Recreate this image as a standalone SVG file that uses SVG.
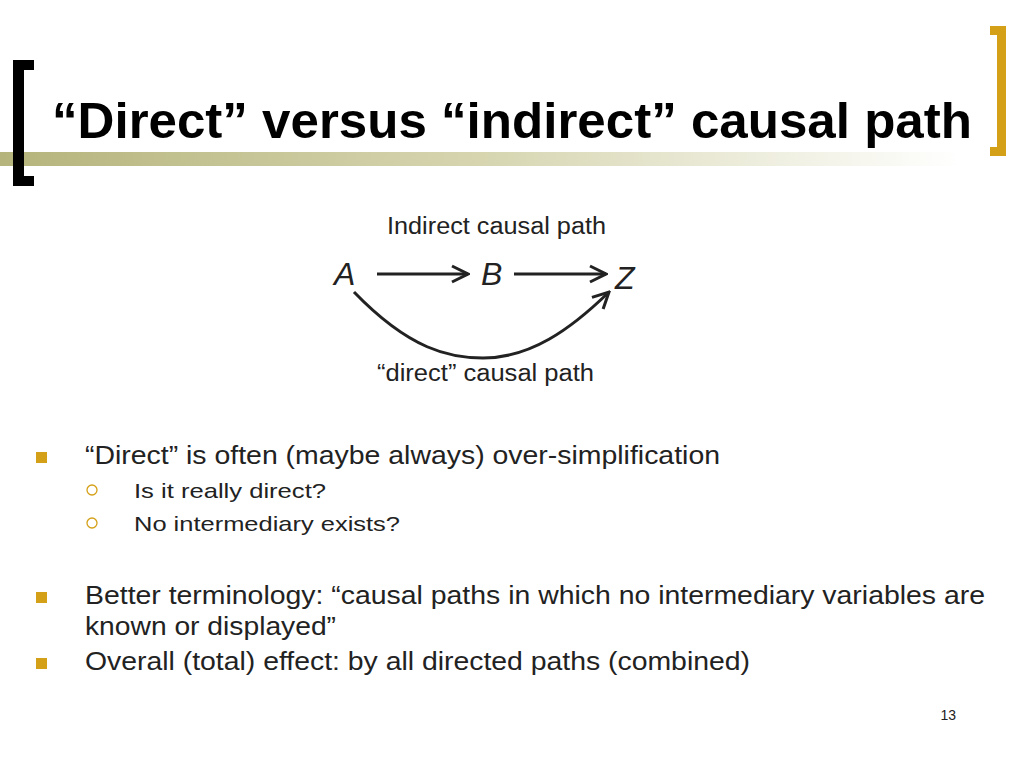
<svg xmlns="http://www.w3.org/2000/svg" width="1024" height="768" viewBox="0 0 1024 768">
<defs>
<linearGradient id="bar" x1="0" x2="1" y1="0" y2="0">
<stop offset="0" stop-color="#b5b47c"/><stop offset="0.5" stop-color="#d6d5b0"/><stop offset="1" stop-color="#ffffff"/>
</linearGradient>
<marker id="ah2" viewBox="0 0 20 20" refX="18" refY="10" markerWidth="20" markerHeight="20" orient="auto" markerUnits="userSpaceOnUse"><path d="M2,2 L18,10 L2,18" fill="none" stroke="#222" stroke-width="3"/></marker>
</defs>
<style>
.t{font-family:"Liberation Sans",Arial,sans-serif;fill:#222}
.v{font-family:"Liberation Sans",Arial,sans-serif;font-style:italic;font-size:32px;fill:#222}
.c{stroke:#222;stroke-width:3;fill:none;marker-end:url(#ah2)}
.b{fill:#d4a017}
</style>
<rect width="1024" height="768" fill="#fff"/>
<rect x="0" y="152" width="960" height="14" fill="url(#bar)"/>
<path d="M34,60 H13 V186 H34 V176 H24 V70 H34 Z" fill="#000"/>
<path d="M990,26 H1006 V156 H990 V147 H997 V35 H990 Z" fill="#d4a017"/>
<text x="52" y="138" style="font-family:'Liberation Sans Narrow','Liberation Sans',Arial,sans-serif;font-weight:bold;font-size:50px;font-stretch:condensed" textLength="920" lengthAdjust="spacingAndGlyphs" fill="#000">“Direct” versus “indirect” causal path</text>
<g id="label-indirect"><text class="t" x="387" y="234" font-size="23" textLength="219" lengthAdjust="spacingAndGlyphs">Indirect causal path</text></g>
<g id="node-A"><text class="v" x="334" y="285">A</text></g>
<g id="node-B"><text class="v" x="481" y="285">B</text></g>
<g id="node-Z"><text class="v" x="615" y="289">Z</text></g>
<g id="connectors">
<line class="c" x1="377" y1="274" x2="468" y2="274"/>
<line class="c" x1="514" y1="274" x2="606" y2="274"/>
<path class="c" d="M354,292 C410,350 450,358 483,358 C530,358 570,330 609,292"/>
</g>
<g id="label-direct"><text class="t" x="377" y="381" font-size="23" textLength="217" lengthAdjust="spacingAndGlyphs">“direct” causal path</text></g>
<g class="t" font-size="26" lengthAdjust="spacingAndGlyphs">
<rect class="b" x="36" y="452" width="11" height="11"/>
<text x="85" y="464" textLength="635" lengthAdjust="spacingAndGlyphs">“Direct” is often (maybe always) over-simplification</text>
<circle cx="92" cy="490" r="5" fill="none" stroke="#d4a017" stroke-width="1.3"/>
<text x="134" y="498" font-size="21" textLength="192" lengthAdjust="spacingAndGlyphs">Is it really direct?</text>
<circle cx="92" cy="523" r="5" fill="none" stroke="#d4a017" stroke-width="1.3"/>
<text x="134" y="531" font-size="21" textLength="266" lengthAdjust="spacingAndGlyphs">No intermediary exists?</text>
<rect class="b" x="36" y="592" width="11" height="11"/>
<text x="85" y="604" textLength="900" lengthAdjust="spacingAndGlyphs">Better terminology: “causal paths in which no intermediary variables are</text>
<text x="85" y="635" textLength="251" lengthAdjust="spacingAndGlyphs">known or displayed”</text>
<rect class="b" x="36" y="658" width="11" height="11"/>
<text x="85" y="670" textLength="665" lengthAdjust="spacingAndGlyphs">Overall (total) effect: by all directed paths (combined)</text>
<text x="956" y="720" font-size="14" text-anchor="end">13</text>
</g>
</svg>
